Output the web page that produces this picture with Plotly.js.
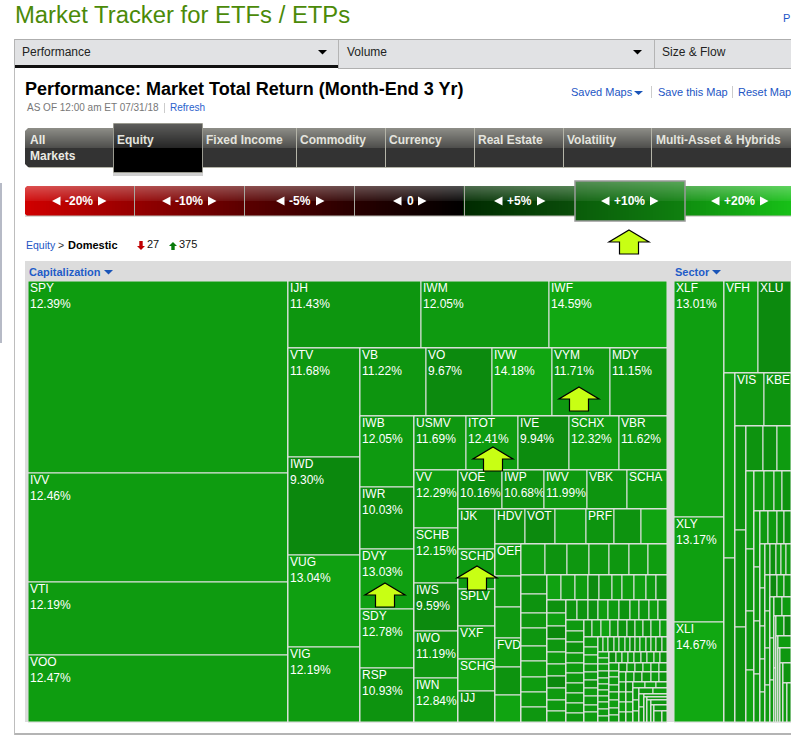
<!DOCTYPE html>
<html><head><meta charset="utf-8">
<script src="https://cdn.plot.ly/plotly-3.0.1.min.js"></script>
<style>html,body{margin:0;padding:0;background:#fff;overflow:hidden}#chart{width:791px;height:735px}</style>
</head><body><div id="chart"></div>
<script>
// ---------- Treemap data: each inner array is one strip of funds ----------
const capTickers = [
 ['SPY','IVV','VTI','VOO'],['IJH','IWM','IWF'],['VTV','IWD','VUG','VIG'],['VB','VO','IVW','VYM','MDY'],
 ['IWB','IWR','DVY','SDY','RSP'],['USMV','ITOT','IVE','SCHX','VBR'],['VV','SCHB','IWS','IWO','IWN'],
 ['VOE','IWP','IWV','VBK','SCHA'],['IJK','SCHD','SPLV','VXF','SCHG','IJJ'],['HDV','VOT','','PRF','',''],
 ['OEF','','','FVD','','']
];
const capSizes = [
 [49920,28340,18980,17420],[8911,8576,7906],[7848,7056,6624,5400],[4488,4488,4080,3944,3876],
 [3834,3348,3240,3186,2916],[2808,2808,2754,2700,2592],[2552,2420,2112,2068,1936],
 [1716,1638,1677,1560,1560],[1480,1480,1369,1221,1184,1147],[1050,1050,1085,980,945,910],
 [832,806,806,754,728,702],[744,682,682,620,620,589,589],[494,494,390,468,390,416,390,390,390],
 [350,350,325,275,325,250,300,300,250,275],[247,247,247,247,228,228,228,228,209,209],
 [220,220,200,200,220,220,180,200,180,180],[198,198,198,180,180,180,180,180,180,162],
 [136,153,153,136,153,136,136,136,153,119],[140,112,126,112,112,112,112,126,98,140],
 [75,75,90,75,90,75,75,75,90,75,75,90,75],[66,66,77,77,66,66,66,66,77,77,66],
 [77,66,66,66,77,66,77,66,77],[80,60,80,70,80,80,70,70],[72,72,72,72,72,72],[70,70,70,70,70],
 [80,80,90,80,80],[70,70,70,70],[72,66,66],[72,66,66],[84,84],[65,75],[69],[75],[60],[88],[80],[51],[78],[88],[55]
];
const capReturns = [
 [12.39,12.46,12.19,12.47],[11.43,12.05,14.59],[11.68,9.30,13.04,12.19],[11.22,9.67,14.18,11.71,11.15],
 [12.05,10.03,13.03,12.78,10.93],[11.69,12.41,9.94,12.32,11.62],[12.29,12.15,9.59,11.19,12.84],
 [10.16,10.68,11.99,11.2,12.1],[10.8,12.0,11.5,12.1,13.5,10.5],[10.5,9.6,12.4,11.3,11.0,13.8],
 [12.3,11.8,11.8,12.2,11.0,13.8],[12.0,11.0,11.5,11.5,11.5,12.0,12.5],[11.0,11.0,11.5,11.5,12.0,12.5,12.3,12.0,11.5],
 [13.5,12.0,12.3,9.8,11.5,12.3,12.5,13.0,12.0,10.5],[10.6,13.0,9.4,11.5,12.0,12.0,9.5,12.0,12.0,12.0],
 [11.0,11.0,10.5,12.5,12.0,11.0,12.0,11.5,12.5,11.0],[12.0,11.5,11.0,12.0,12.3,12.0,11.5,11.8,12.0,11.5],
 [10.8,12.0,13.5,11.5,11.0,10.5,12.0,10.8,12.2,12.5],[12.0,13.0,12.5,11.5,12.0,11.0,12.5,11.8,12.0,12.3],
 [11.0,12.5,10.5,12.0,11.5,12.0,10.0,11.8,12.3,11.0,12.5,10.5,11.5],[13.0,12.5,12.0,11.0,12.5,11.5,12.0,11.8,12.0,12.2,11.5],
 [10.0,12.0,12.5,12.0,11.5,11.0,12.0,12.5,10.5],[12.0,13.0,12.0,11.5,12.0,13.0,11.5,12.0],[10.2,12.0,11.0,12.5,11.5,11.0],
 [12.0,11.5,12.0,13.0,11.5],[12.0,11.0,11.5,12.5,11.0],[10.0,12.0,13.5,12.0],[12.5,13.0,11.5],[11.5,12.0,12.5],[11.0,12.5],
 [12.0,11.5],[12.5],[12.0],[11.5],[12.0],[11.5],[12.5],[11.0],[11.5],[12.0]
];
const sectorTickers = [['XLF','XLY','XLI'],['VFH','XLU'],['',''],['VIS','KBE']];
const sectorSizes = [
 [11800,5250,5000],[3128,3036],[2035,1804],[1537,1431],[1144,1067,1045],[765,630,630],[624,496,472,416],
 [400,400,320,360],[336,324,318,288],[264,297,231,231],[220,190,165,165,150],[155,186,155,155,155],[180,185,185,185],
 [154,154,154],[164,168,168],[152,171],[104,108],[160,140],[172],[156],[148],[165],[177],[160],[156],[156]
];
const sectorReturns = [
 [13.01,13.17,14.67],[13.4,9.6],[13.4,11.2],[11.6,11.0],[11.0,11.0,11.0],[11.0,10.4,12.2],[13.0,12.0,11.8,13.6],
 [12.2,12.0,12.2,11.0],[12.4,11.8,11.5,12.0],[11.8,12.2,11.2,10.6],[12.4,10.8,12.0,11.6,12.2],[11.0,10.4,11.8,12.6,11.5],
 [11.2,12.0,11.6,12.2],[9.5,12.2,10.8],[12.0,11.5,11.8],[10.8,12.0],[11.5,12.0],[12.0,9.2],[11.8],[12.4],[12.0],[11.6],[12.0],[11.0],[12.2],[11.0]
];
const noPercentShown = ['VBK','SCHA','IJK','SCHD','SPLV','VXF','SCHG','IJJ','HDV','VOT','PRF','OEF','FVD','VFH','XLU','VIS','KBE'];

// ---------- Chrome text ----------
const pageTitle = 'Market Tracker for ETFs / ETPs';
const mapTitle = 'Performance: Market Total Return (Month-End 3 Yr)';
const asOf = 'AS OF 12:00 am ET 07/31/18';
const topTabs = ['Performance','Volume','Size & Flow'];
const marketTabs = ['Equity','Fixed Income','Commodity','Currency','Real Estate','Volatility','Multi-Asset & Hybrids'];
const scaleLabels = ['-20%','-10%','-5%','0','+5%','+10%','+20%'];

// ---------- Tree builder ----------
function buildTree(root, tickers, sizes, rets) {
  const t = {ids:[root], labels:[''], parents:[''], values:[0], colors:[12], text:['']};
  const add = (id,label,parent,value,color,text) => {
    t.ids.push(id); t.labels.push(label); t.parents.push(parent); t.values.push(value); t.colors.push(color); t.text.push(text);
  };
  let rest = root;
  sizes.forEach((strip,k) => {
    const sid = root+'s'+k;
    add(sid,'',rest,0,12,'');
    strip.forEach((v,i) => {
      const name = (tickers[k] && tickers[k][i]) || '';
      const pct = name && !noPercentShown.includes(name) ? rets[k][i].toFixed(2)+'%' : '';
      add(sid+'t'+i,name,sid,v,rets[k][i],pct);
    });
    if (k < sizes.length-1) { const next = root+'r'+(k+1); add(next,'',rest,0,12,''); rest = next; }
  });
  return t;
}
const W = 791, H = 735;
const fx = x => x/W, fy = y => 1-y/H;
function treemap(tree, x0, x1, y0, y1) {
  return {
    type:'treemap', ids:tree.ids, labels:tree.labels, parents:tree.parents, values:tree.values, text:tree.text,
    branchvalues:'remainder', sort:false, textinfo:'label+text', textposition:'top left', hoverinfo:'label+text',
    tiling:{packing:'slice-dice', pad:0}, pathbar:{visible:false}, leaf:{opacity:1},
    marker:{colors:tree.colors, colorscale:[[0,'#0b860d'],[0.5,'#0e9a10'],[1,'#11aa12']], cmin:9, cmax:15, showscale:false,
            depthfade:false, pad:{t:0,l:0,r:0,b:0}, line:{color:'#e4e4e4',width:1}},
    textfont:{family:'Liberation Sans',size:12,color:'#ffffff'},
    insidetextfont:{family:'Liberation Sans',size:12,color:'#ffffff'},
    domain:{x:[fx(x0),fx(x1)], y:[fy(y1),fy(y0)]}
  };
}

// ---------- Chrome helpers ----------
const shapes = [], annotations = [];
function rect(x0,y0,x1,y1,fill,line,lw){
  shapes.push({type:'rect',xref:'paper',yref:'paper',x0:fx(x0),x1:fx(x1),y0:fy(y1),y1:fy(y0),
    fillcolor:fill,line:{width:line?(lw||1):0,color:line||fill},layer:'above'});
}
function poly(pts,fill,line,lw){
  const d = pts.map((p,i)=>(i?'L':'M')+fx(p[0]).toFixed(5)+','+fy(p[1]).toFixed(5)).join(' ')+' Z';
  shapes.push({type:'path',xref:'paper',yref:'paper',path:d,fillcolor:fill,line:{width:line?(lw||1):0,color:line||fill},layer:'above'});
}
function label(x,y,text,size,color,anchor){
  annotations.push({xref:'paper',yref:'paper',x:fx(x),y:fy(y),text,showarrow:false,xanchor:anchor||'left',yanchor:'middle',
    borderpad:0,borderwidth:0,font:{family:'Liberation Sans',size,color}});
}
const mix=(a,b,t)=>{const h=s=>[1,3,5].map(i=>parseInt(s.substr(i,2),16));const A=h(a),B=h(b);
  return 'rgb('+A.map((v,i)=>Math.round(v+(B[i]-v)*t)).join(',')+')';};
function vGrad(x0,x1,y0,y1,c0,c1){ for(let y=y0;y<y1;y++) rect(x0,y,x1,y+1,mix(c0,c1,(y-y0)/(y1-y0))); }
function upArrow(cx,top){
  poly([[cx,top],[cx+20,top+12],[cx+9.5,top+12],[cx+9.5,top+24],[cx-9.5,top+24],[cx-9.5,top+12],[cx-20,top+12]],'#c8ff14','#000',1.2);
}

// page frame
rect(0,183,2,343,'#b6bac6');
rect(14,68,15,735,'#bdbdbd');
rect(15,733,791,735,'#b4b4b4');
label(15,14,pageTitle,23.85,'#4b8a08');
label(783,18,'P',11,'#1a55c8');

// top tabs
rect(14,39,791,68,'#e1e2e4');
rect(14,39,791,40,'#aeaeae');
rect(14,39,15,68,'#b4b4b4');
rect(15,65,338,68,'#111111');
rect(338,68,791,69,'#b0b0b0');
rect(338,40,339,68,'#b4b4b4');
rect(654,40,655,68,'#b4b4b4');
label(22,52,topTabs[0],12,'#222');
label(347,52,topTabs[1],12,'#222');
label(662,52,topTabs[2],12,'#222');
poly([[318,50],[327,50],[322.5,54.5]],'#000');
poly([[633,50],[642,50],[637.5,54.5]],'#000');

// heading
label(25,89,'<b>'+mapTitle+'</b>',18,'#000');
label(27,107.5,asOf,10,'#777');
rect(164,103,165,113,'#ccc');
label(170,107.5,'Refresh',10,'#2a62cc');
label(571,92,'Saved Maps',11,'#2255c4');
poly([[634,91],[643,91],[638.5,95]],'#1a55b8');
rect(651,86,652,98,'#ccc');
label(658,92,'Save this Map',11,'#2255c4');
rect(732,86,733,98,'#ccc');
label(738,92,'Reset Map',11,'#2255c4');

// market tabs
vGrad(25,791,128,148,'#8c8c86','#4c4c4a');
rect(25,148,791,167,'#333333');
rect(25,167,791,168,'#b4b4a8');
poly([[24,127],[29,127],[24,132]],'#fff');
poly([[24,168],[29,168],[24,163]],'#fff');
[296,385,474,563,651].forEach(x=>rect(x,128,x+1,167,'#b4b4a8'));
rect(113,173,203,176,'#d0d0d0');
vGrad(114,203,124,148,'#5c5c5a','#242424');
rect(114,148,203,172,'#000000');
rect(113.5,123.5,202.5,172.5,'rgba(0,0,0,0)','#9a9a90');
label(30,140,'<b>All</b>',12,'#eaeae4');
label(30,156,'<b>Markets</b>',12,'#eaeae4');
[117,206,300,389,478,567,656].forEach((x,i)=>label(x,140,'<b>'+marketTabs[i]+'</b>',12,'#e4e4de'));

// colour scale
const scaleStops=[[25,'#d00000'],[134,'#960000'],[244,'#5c0000'],[354,'#280000'],[464,'#000000']];
const greenStops=[[464,'#002a00'],[575,'#0a4e0a'],[575.01,'#0a5c0a'],[685,'#0f800f'],[685.01,'#0f8e0f'],[791,'#17c017']];
function stopColor(x){
  const st = x<464 ? scaleStops : greenStops;
  for(let i=0;i<st.length-1;i++) if(x>=st[i][0]&&x<=st[i+1][0]) return mix(st[i][1],st[i+1][1],(x-st[i][0])/(st[i+1][0]-st[i][0]));
  return st[st.length-1][1];
}
function scaleBand(x0,x1,y0,y1){ for(let x=x0;x<x1;x+=3){ rect(x,y0,Math.min(x+3,x1),y1,stopColor(x+1.5)); } }
function gloss(x0,x1,y0,ym){ for(let y=y0;y<ym;y+=1){ rect(x0,y,x1,y+1,'rgba(255,255,255,'+(0.3-0.24*(y-y0)/(ym-y0)).toFixed(3)+')'); } }
scaleBand(25,791,186,216);
gloss(25,791,186,201);
poly([[24,185],[28,185],[24,189]],'#fff');
poly([[24,217],[28,217],[24,213]],'#fff');
[134,244,354,464].forEach(x=>rect(x,186,x+1,216,'#a8a8a0'));
rect(25,215.5,791,216.5,'#b8b8b0');
scaleBand(575,685,181,221);
gloss(575,685,181,201);
rect(575,181,685,221,'rgba(0,0,0,0)','#999',1.5);
const triL=[52,162,276,393,494,601,711], txt=[79,189,300,410,519.5,629,739.5], triR=[98,208,316,418,537,650,760];
scaleLabels.forEach((s,i)=>{
  poly([[triL[i],201],[triL[i]+8.5,196.5],[triL[i]+8.5,205.5]],'#fff');
  poly([[triR[i],196.5],[triR[i]+8.5,201],[triR[i],205.5]],'#fff');
  label(txt[i],201,'<b>'+s+'</b>',12,'#fff','center');
});
upArrow(629,230);

// breadcrumb
label(26,245,'Equity',10.5,'#2255c4');
label(58,245,'&gt;',10.5,'#333');
label(68,245,'<b>Domestic</b>',11,'#000');
poly([[141,250],[137,246],[139.3,246],[139.3,241],[142.7,241],[142.7,246],[145,246]],'#c00000');
label(147,244,'27',11,'#111');
poly([[173,242],[177,246],[174.7,246],[174.7,250],[171.3,250],[171.3,246],[169,246]],'#0a7a0a');
label(179,244,'375',11,'#111');

// treemap surround
rect(25,261,791,281,'#dcdcdc');
rect(25,281,28,722,'#dcdcdc');
rect(667,281,674,722,'#dcdcdc');
label(29,272,'<b>Capitalization</b>',11,'#1f5cc8');
poly([[104,270],[113,270],[108.5,274.5]],'#1a55b8');
label(675,272,'<b>Sector</b>',11,'#1f5cc8');
poly([[712,270],[721,270],[716.5,274.5]],'#1a55b8');

// flagged funds
upArrow(579,387);
upArrow(493,447);
upArrow(385,583);
upArrow(477,566);

const traces=[
  treemap(buildTree('cap',capTickers,capSizes,capReturns),28,667,281,722),
  treemap(buildTree('sec',sectorTickers,sectorSizes,sectorReturns),674,791,281,722)
];
Plotly.newPlot('chart',traces,{width:W,height:H,margin:{l:0,r:0,t:0,b:0},paper_bgcolor:'#fff',
  font:{family:'Liberation Sans'},showlegend:false,shapes,annotations,
  uniformtext:{mode:'show',minsize:12}},{displayModeBar:false,responsive:false}).then(gd=>{
  // nudge tile captions to sit tight in the tile's top-left corner
  gd.querySelectorAll('.treemaplayer text.slicetext').forEach(el=>{
    const tr = el.getAttribute('transform') || '';
    el.setAttribute('transform','translate(-1,-3) '+tr);
  });
});
</script></body></html>
